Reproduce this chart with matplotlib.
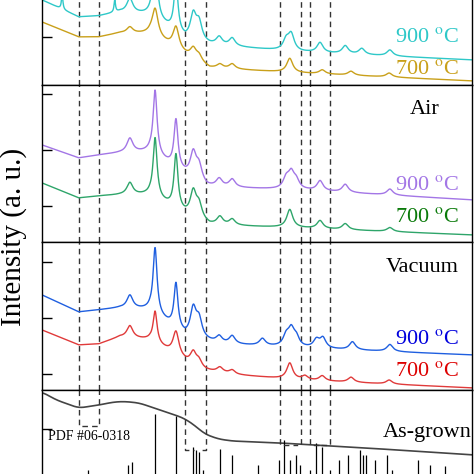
import numpy as np
import matplotlib
import matplotlib.pyplot as plt

matplotlib.use('Agg')
plt.rcParams['font.family'] = ['Liberation Serif', 'DejaVu Serif']
plt.rcParams['mathtext.fontset'] = 'stix'

# 2-theta window shown (degrees)
x_lim = (10, 69.7)
dash_x = [15.1, 17.9, 29.9, 32.8, 43.1, 46.0, 47.2, 50.0]

# baseline anchors (2theta, intensity) and peaks (2theta, height) per pattern
cyan_base = [(10, 85), (15.1, 68), (17.9, 69), (20.8, 73), (25, 70), (29.9, 45), (33.3, 40), (45.8, 33), (70, 25)]
cyan_peaks = [(12.8, 15), (20.1, 12), (22.2, 14), (25.7, 70), (28.6, 50), (31.0, 25), (31.8, 18), (34.6, 8),
              (36.4, 8), (43.9, 10), (44.6, 16), (48.6, 10), (52.1, 8), (54.4, 6), (58.3, 6)]
gold_base = [(10, 63), (15.1, 48), (17.9, 48), (20.8, 52), (25, 51), (29.9, 30), (33.3, 17), (45.8, 12), (70, 4)]
gold_peaks = [(22.2, 6), (25.7, 28), (28.6, 22), (31.0, 10), (31.8, 6), (34.7, 4), (36.4, 5), (44.4, 14),
              (48.9, 4), (52.9, 4), (58.2, 4)]

purple_base = [(10, 97), (15.1, 84), (17.9, 87), (20.8, 89), (25, 90), (29.9, 67), (32.9, 55), (45.8, 52), (70, 42)]
purple_peaks = [(22.2, 14), (25.7, 64), (28.6, 48), (31.0, 25), (31.8, 15), (34.6, 8), (36.4, 8), (43.9, 10),
                (44.6, 15), (45.3, 8), (48.6, 10), (52.1, 8), (58.3, 6)]
green_base = [(10, 59), (15.1, 44), (17.9, 46), (20.8, 47), (25, 47), (29.9, 27), (33.3, 17), (45.8, 14), (70, 7)]
green_peaks = [(22.2, 12), (25.7, 59), (28.6, 54), (31.0, 25), (31.8, 14), (34.7, 8), (36.4, 6), (44.4, 18),
               (48.6, 8), (52.1, 6), (58.3, 4)]

blue_base = [(10, 95), (15.1, 78), (17.9, 80), (20.8, 82), (25, 80), (29.9, 53), (34.7, 46), (45.8, 42), (70, 35)]
blue_peaks = [(22.2, 13), (25.7, 65), (28.6, 45), (31.0, 28), (31.8, 18), (34.6, 7), (36.4, 8), (40.6, 7),
              (43.9, 10), (44.6, 16), (45.3, 9), (48.1, 8), (49.0, 10), (53.1, 8), (58.3, 7)]
red_base = [(10, 60), (15.1, 45), (17.9, 46), (20.8, 53), (25, 50), (29.9, 28), (31.9, 20), (37.1, 15), (45.8, 10), (70, 2)]
red_peaks = [(22.2, 12), (25.7, 31), (28.6, 24), (31.0, 13), (31.8, 8), (34.7, 5), (36.4, 4), (44.4, 16),
             (46.5, 4), (48.9, 5), (52.9, 5), (58.2, 4)]

gray_base = [(10, 158), (12, 150), (15.1, 142), (17.9, 145), (20, 148), (21.5, 148.5), (23.5, 147),
             (26.4, 140), (28.5, 135), (29.9, 131), (31.3, 124), (32.6, 116), (34.5, 111), (36.4, 109),
             (43.1, 107), (55, 102), (70, 95)]
pdf_x = [16.4, 22.0, 22.5, 25.7, 28.6, 31.0, 31.4, 31.8, 32.4, 34.7, 36.4, 40.0, 42.9, 43.6, 44.4, 45.3, 45.8,
         47.2, 48.1, 48.9, 50.0, 51.3, 52.5, 54.2, 54.6, 55.0, 56.3, 57.9, 58.6, 62.2, 63.8, 66.0]
pdf_h = [80, 85, 88, 136, 134, 103, 100, 98, 80, 101, 95, 85, 90, 110, 90, 95, 85,
         80, 107, 103, 80, 90, 95, 100, 95, 95, 90, 95, 80, 90, 85, 84]

tt = np.linspace(10, 70, 1500)


def pattern(base, peaks, smooth=False):
    b = np.array(base)
    y = np.interp(tt, b[:, 0], b[:, 1])
    if smooth:
        k = np.ones(41) / 41
        y = np.convolve(np.pad(y, 20, mode='edge'), k, mode='valid')
    for pos, h in peaks:
        w = 0.12 if h >= 12 and pos < 21 else (0.33 if h > 30 else 0.5)
        y += h / (1 + ((tt - pos) / w) ** 2)
    return y


H = 474.0
fig = plt.figure(figsize=(4.74, 4.74), dpi=100)
L, R = 42 / H, 472 / H


def panel(top_px, bot_px, ticks):
    ax = fig.add_axes([L, 1 - bot_px / H, R - L, (bot_px - top_px) / H])
    ax.set_xlim(*x_lim)
    ax.set_ylim(0, bot_px - top_px)
    ax.set_xticks([])
    ax.set_yticks(ticks)
    ax.set_yticklabels([])
    ax.tick_params(axis='y', direction='in', length=7, width=1)
    for s in ax.spines.values():
        s.set_linewidth(1)
    return ax


ax1 = panel(-75, 85, [48])
ax2 = panel(85, 242, [36, 92, 148])
ax3 = panel(242, 390, [16, 72, 128])
ax4 = panel(390, 550, [121])

for ax in (ax1, ax2, ax3):
    for xv in dash_x:
        ax.axvline(xv, color='#333333', ls=(0, (4, 3)), lw=1)

ax1.plot(tt, pattern(cyan_base, cyan_peaks), color='#2ec8c8', lw=1)
ax1.plot(tt, pattern(gold_base, gold_peaks), color='#c9a01a', lw=1)
ax2.plot(tt, pattern(purple_base, purple_peaks), color='#a376e6', lw=1)
ax2.plot(tt, pattern(green_base, green_peaks), color='#2ea56a', lw=1)
ax3.plot(tt, pattern(blue_base, blue_peaks), color='#1f5fe0', lw=1)
ax3.plot(tt, pattern(red_base, red_peaks), color='#e03a3a', lw=1)
ax4.plot(tt, pattern(gray_base, [], smooth=True), color='#444444', lw=1.2)
ax4.vlines(pdf_x, 0, pdf_h, color='black', lw=0.9)

# dashed guides ending inside the as-grown panel
dk = dict(color='#333333', ls=(0, (4, 3)), lw=1)
ax4.plot([15.1, 15.1, 17.9, 17.9], [160, 124, 124, 160], **dk)
for a, b, end in [(29.9, 32.8, 100), (43.1, 46.0, 105), (47.2, 50.0, 105)]:
    ax4.plot([a, a, a + 1.2], [160, end, end], **dk)
    ax4.plot([b, b, b - 1.2], [160, end, end], **dk)

fs = 16
deg = '$^{\\rm o}$C'
yt = lambda ax: ax.get_yaxis_transform()
ax1.text(0.97, 48, '900 ' + deg, color='#2ec8c8', fontsize=fs, ha='right', va='center', transform=yt(ax1))
ax1.text(0.97, 15, '700 ' + deg, color='#c9a01a', fontsize=fs, ha='right', va='center', transform=yt(ax1))
ax2.text(0.89, 132, 'Air', fontsize=fs, ha='center', va='center', transform=yt(ax2))
ax2.text(0.97, 57, '900 ' + deg, color='#a376e6', fontsize=fs, ha='right', va='center', transform=yt(ax2))
ax2.text(0.97, 24, '700 ' + deg, color='#0a7a0a', fontsize=fs, ha='right', va='center', transform=yt(ax2))
ax3.text(0.97, 123, 'Vacuum', fontsize=fs, ha='right', va='center', transform=yt(ax3))
ax3.text(0.97, 51, '900 ' + deg, color='#0000dd', fontsize=fs, ha='right', va='center', transform=yt(ax3))
ax3.text(0.97, 18, '700 ' + deg, color='#dd0000', fontsize=fs, ha='right', va='center', transform=yt(ax3))
ax4.text(1.0, 118, 'As-grown', fontsize=fs, ha='right', va='center', transform=yt(ax4))
ax4.text(0.015, 113, 'PDF #06-0318', fontsize=10, ha='left', va='center', transform=yt(ax4))

fig.text(14 / H, 0.5, 'Intensity (a. u.)', rotation=90, fontsize=21, ha='center', va='center')

fig.savefig('out.png', dpi=100)
